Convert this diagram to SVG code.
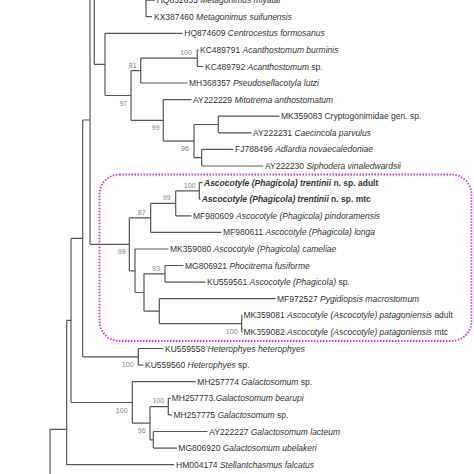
<svg xmlns="http://www.w3.org/2000/svg" width="474" height="474" viewBox="0 0 474 474">
<style>
.t{font-family:"Liberation Sans",Arial,sans-serif;font-size:8.5px;fill:#333}
.i{font-style:italic}
.b{font-weight:bold}
.bs{font-family:"Liberation Sans",Arial,sans-serif;font-size:7px;fill:#808080;text-anchor:middle}
.e{stroke:#555;stroke-width:1.2;fill:none}
.box{fill:none;stroke:#cc33cc;stroke-width:1.8;stroke-dasharray:1.5 1.5}
</style>
<rect width="474" height="474" fill="#fff"/>
<g id="connectors">
<path class="e" d="M50,429.3 V480 M50,429.3 H66.7
M66.7,320.4 V464.7 M66.7,320.4 H71 M66.7,464.7 H174
M71,238.4 V402.5 M71,238.4 H82.7 M71,402.5 H132.3
M82.7,120 V356.8 M82.7,120 H90 M82.7,356.8 H138.3
M90,-5 V244.3 M90,244.3 H129.3
M94.3,-5 V64.4 M94.3,64.4 H105
M146,-5 V16.7 M146,0.1 H155 M146,16.7 H152
M105,33.3 V95.5 M105,33.3 H182.5 M105,95.5 H131
M131,70.6 V120.35 M131,70.6 H140.7 M131,120.35 H163.3
M140.7,58.2 V83 M140.7,58.2 H197.3 M140.7,83 H187.5
M197.3,49.9 V66.5 M197.3,49.9 H198.5 M197.3,66.5 H203.5
M163.3,99.6 V141.1 M163.3,99.6 H191.5 M163.3,141.1 H194
M194,124.5 V157.7 M194,124.5 H218.3 M194,157.7 H201.7
M218.3,116.2 V132.8 M218.3,116.2 H279.5 M218.3,132.8 H251.5
M201.7,149.4 V166 M201.7,149.4 H233.3 M201.7,166 H263.3
M129.3,217.9 V270.8 M129.3,217.9 H150.7 M129.3,270.8 H135
M150.7,203.4 V232.4 M150.7,203.4 H175.7 M150.7,232.4 H221.5
M175.7,190.9 V215.8 M175.7,190.9 H199.3 M175.7,215.8 H191.5
M199.3,182.6 V199.2 M199.3,182.6 H202.5 M199.3,199.2 H200.5
M135,249 V292.5 M135,249 H168.5 M135,292.5 H144
M144,273.8 V311.2 M144,273.8 H165 M144,311.2 H159.3
M165,265.5 V282.1 M165,265.5 H183.5 M165,282.1 H205.5
M159.3,298.7 V323.6 M159.3,298.7 H275.5 M159.3,323.6 H241.7
M241.7,315.3 V331.9 M241.7,315.3 H242.5 M241.7,331.9 H242.5
M138.3,348.5 V365.1 M138.3,348.5 H163.5 M138.3,365.1 H143.5
M132.3,381.7 V423.2 M132.3,381.7 H195.5 M132.3,423.2 H150
M150,406.6 V439.8 M150,406.6 H168.3 M150,439.8 H153.3
M168.3,398.3 V414.9 M168.3,398.3 H170.5 M168.3,414.9 H172
M153.3,431.5 V448.1 M153.3,431.5 H207.5 M153.3,448.1 H177"/>
</g>
<g id="clade-box"><rect class="box" x="99.5" y="174.5" width="372" height="166.5" rx="20" ry="20"/></g>
<g id="support">
<text class="bs" x="186" y="55.2">100</text>
<text class="bs" x="132.7" y="67.5">81</text>
<text class="bs" x="123.3" y="105.8">97</text>
<text class="bs" x="155.7" y="129.8">99</text>
<text class="bs" x="185" y="150.8">96</text>
<text class="bs" x="189.7" y="187.9">100</text>
<text class="bs" x="166.7" y="199.9">99</text>
<text class="bs" x="141.7" y="214.9">87</text>
<text class="bs" x="121.7" y="254.2">99</text>
<text class="bs" x="156" y="270.8">93</text>
<text class="bs" x="231.7" y="333.5">100</text>
<text class="bs" x="127.7" y="366.8">100</text>
<text class="bs" x="121.7" y="412.5">100</text>
<text class="bs" x="141.7" y="433.2">96</text>
<text class="bs" x="158.3" y="403">100</text>
</g>
<g id="n-HQ832635"><text class="t" x="156.7" y="3.1">HQ832635 <tspan class="i">Metagonimus miyatai</tspan></text></g>
<g id="n-KX387460"><text class="t" x="154" y="19.7">KX387460 <tspan class="i">Metagonimus suifunensis</tspan></text></g>
<g id="n-HQ874609"><text class="t" x="184.3" y="36.3">HQ874609 <tspan class="i">Centrocestus formosanus</tspan></text></g>
<g id="n-KC489791"><text class="t" x="200" y="52.9">KC489791 <tspan class="i">Acanthostomum burminis</tspan></text></g>
<g id="n-KC489792"><text class="t" x="205" y="69.5">KC489792 <tspan class="i">Acanthostomum</tspan> sp.</text></g>
<g id="n-MH368357"><text class="t" x="189" y="86">MH368357 <tspan class="i">Pseudosellacotyla lutzi</tspan></text></g>
<g id="n-AY222229"><text class="t" x="193" y="102.6">AY222229 <tspan class="i">Mitotrema anthostomatum</tspan></text></g>
<g id="n-MK359083"><text class="t" x="281" y="119.2">MK359083 Cryptogonimidae gen. sp.</text></g>
<g id="n-AY222231"><text class="t" x="253" y="135.8">AY222231 <tspan class="i">Caecincola parvulus</tspan></text></g>
<g id="n-FJ788496"><text class="t" x="235" y="152.4">FJ788496 <tspan class="i">Adlardia novaecaledoniae</tspan></text></g>
<g id="n-AY222230"><text class="t" x="265" y="169">AY222230 <tspan class="i">Siphodera vinaledwardsii</tspan></text></g>
<g id="n-trentinii-adult"><text class="t b" x="204" y="185.6"><tspan class="i">Ascocotyle (Phagicola) trentinii</tspan> n. sp. adult</text></g>
<g id="n-trentinii-mtc"><text class="t b" x="201.7" y="202.2"><tspan class="i">Ascocotyle (Phagicola) trentinii</tspan> n. sp. mtc</text></g>
<g id="n-MF980609"><text class="t" x="193" y="218.8">MF980609 <tspan class="i">Ascocotyle (Phagicola) pindoramensis</tspan></text></g>
<g id="n-MF980611"><text class="t" x="223" y="235.4">MF980611 <tspan class="i">Ascocotyle (Phagicola) longa</tspan></text></g>
<g id="n-MK359080"><text class="t" x="170" y="252">MK359080 <tspan class="i">Ascocotyle (Phagicola) cameliae</tspan></text></g>
<g id="n-MG806921"><text class="t" x="185" y="268.5">MG806921 <tspan class="i">Phocitrema fusiforme</tspan></text></g>
<g id="n-KU559561"><text class="t" x="207" y="285.1">KU559561 <tspan class="i">Ascocotyle (Phagicola)</tspan> sp.</text></g>
<g id="n-MF972527"><text class="t" x="277" y="301.7">MF972527 <tspan class="i">Pygidiopsis macrostomum</tspan></text></g>
<g id="n-MK359081"><text class="t" x="243.5" y="318.3">MK359081 <tspan class="i">Ascocotyle (Ascocotyle) patagoniensis</tspan> adult</text></g>
<g id="n-MK359082"><text class="t" x="243.5" y="334.9">MK359082 <tspan class="i">Ascocotyle (Ascocotyle) patagoniensis</tspan> mtc</text></g>
<g id="n-KU559558"><text class="t" x="165" y="351.5">KU559558 <tspan class="i">Heterophyes heterophyes</tspan></text></g>
<g id="n-KU559560"><text class="t" x="145" y="368.1">KU559560 <tspan class="i">Heterophyes</tspan> sp.</text></g>
<g id="n-MH257774"><text class="t" x="197.3" y="384.7">MH257774 <tspan class="i">Galactosomum</tspan> sp.</text></g>
<g id="n-MH257773"><text class="t" x="171.7" y="401.3">MH257773.<tspan class="i">Galactosomum bearupi</tspan></text></g>
<g id="n-MH257775"><text class="t" x="173.5" y="417.9">MH257775 <tspan class="i">Galactosomum</tspan> sp.</text></g>
<g id="n-AY222227"><text class="t" x="209.3" y="434.5">AY222227 <tspan class="i">Galactosomum lacteum</tspan></text></g>
<g id="n-MG806920"><text class="t" x="178.3" y="451.1">MG806920 <tspan class="i">Galactosomum ubelakeri</tspan></text></g>
<g id="n-HM004174"><text class="t" x="176" y="467.7">HM004174 <tspan class="i">Stellantchasmus falcatus</tspan></text></g>
</svg>
